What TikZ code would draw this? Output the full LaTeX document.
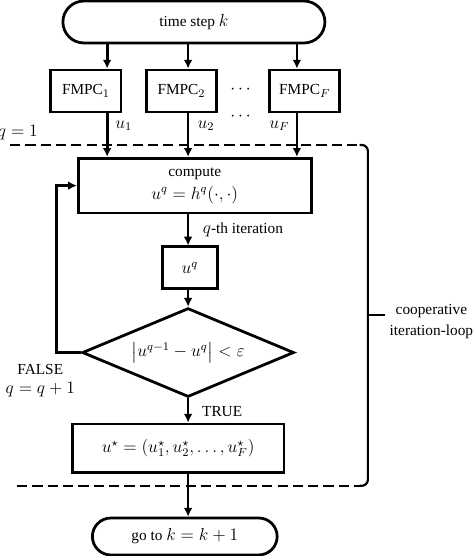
\documentclass[tikz,border=0pt]{standalone}
\usepackage{amsmath}
\usepackage{fontspec}
\setmainfont{Liberation Serif}
\DeclareMathSizes{10.5}{12}{8.5}{6.5}
\usepackage{tikz}
\usetikzlibrary{positioning}
\usetikzlibrary{calc,arrows.meta}
\usetikzlibrary{shapes.geometric,shapes.misc}

\tikzset{
	every node/.style={font=\fontsize{10.5}{12.5}\selectfont},
	flowline/.style={line width=1.9pt, -{Latex[length=6pt,width=6pt]}},
	flowbox/.style={draw, line width=1.9pt, rectangle, inner sep=0pt, align=center},
	terminal/.style={draw, line width=1.9pt, rounded rectangle, inner sep=0pt},
	decision/.style={draw, line width=1.9pt, diamond, aspect=2.4, inner sep=0pt},
	loopline/.style={line width=1.5pt, dash pattern=on 7pt off 3.5pt},
	braceline/.style={line width=1.5pt, rounded corners=0.15cm},
}

\begin{document}
\begin{tikzpicture}
	
	\useasboundingbox (-4.53,0.00) rectangle (6.89,-13.39);
	
	% ---------------------
	% Columns of the arrows
	\coordinate (ColA) at (-1.95cm,0.00cm);
	\coordinate (ColB) at ( 0.00cm,0.00cm);
	\coordinate (ColF) at ( 2.62cm,0.00cm);
	
	% ---------------------
	% Blocks
	\node[terminal, minimum width=6.31cm, minimum height=1.01cm] (Start) at (0.14cm,-0.53cm) {time step $k$};
	
	\node[flowbox, minimum width=1.69cm, minimum height=1.01cm] (FmpcA) at (-2.46cm,-2.19cm) {FMPC$_1$};
	\node[flowbox, minimum width=1.69cm, minimum height=1.01cm] (FmpcB) at (-0.16cm,-2.19cm) {FMPC$_2$};
	\node[flowbox, minimum width=1.69cm, minimum height=1.01cm] (FmpcF) at ( 2.81cm,-2.19cm) {FMPC$_F$};
	\node (DotsA) at (1.30cm,-2.17cm) {$\cdots$};
	\node (DotsB) at (1.30cm,-2.82cm) {$\cdots$};
	
	\node[flowbox, minimum width=5.61cm, minimum height=1.32cm] (Compute) at (0.16cm,-4.47cm) {compute\\[3pt]$u^q = h^q(\cdot,\cdot)$};
	\node[flowbox, minimum width=1.32cm, minimum height=1.01cm] (Iterate) at (0.04cm,-6.45cm) {$u^q$};
	\node[decision, minimum width=5.10cm, minimum height=2.14cm] (Check) at (0.00cm,-8.49cm) {$\bigl|u^{q-1}-u^q\bigr| < \varepsilon$};
	\node[flowbox, minimum width=5.10cm, minimum height=1.16cm] (Result) at (-0.24cm,-10.79cm) {$u^\star = (u_1^\star, u_2^\star, \dots, u_F^\star)$};
	\node[terminal, minimum width=4.45cm, minimum height=0.89cm] (Next) at (-0.08cm,-12.92cm) {go to $k = k+1$};
	
	% ---------------------
	% Labels
	\node (LabA) at (-1.55cm,-3.03cm) {$u_1$};
	\node (LabB) at ( 0.43cm,-3.03cm) {$u_2$};
	\node (LabF) at ( 2.20cm,-3.03cm) {$u_F$};
	\node (LabInit) at (-4.10cm,-3.20cm) {$q = 1$};
	\node (LabIter) at (1.32cm,-5.54cm) {$q$-th iteration};
	\node (LabTrue) at (0.82cm,-9.92cm) {TRUE};
	\node[align=center] (LabFalse) at (-3.56cm,-9.17cm) {FALSE\\[1pt]$q = q+1$};
	\node[align=center] (LabLoop) at (5.86cm,-7.75cm) {cooperative\\[2pt]iteration-loop};
	
	% ---------------------
	% Arrows
	\draw[flowline] (Start.south -| ColA) -- (FmpcA.north -| ColA);
	\draw[flowline] (Start.south -| ColB) -- (FmpcB.north -| ColB);
	\draw[flowline] (Start.south -| ColF) -- (FmpcF.north -| ColF);
	
	\draw[flowline] (FmpcA.south -| ColA) -- (Compute.north -| ColA);
	\draw[flowline] (FmpcB.south -| ColB) -- (Compute.north -| ColB);
	\draw[flowline] (FmpcF.south -| ColF) -- (Compute.north -| ColF);
	
	\draw[flowline] (Compute.south -| ColB) -- (Iterate.north -| ColB);
	\draw[flowline] (Iterate.south -| ColB) -- (Check.north);
	\draw[flowline] (Check.south) -- (Result.north -| ColB);
	\draw[flowline] (Result.south -| ColB) -- (Next.north -| ColB);
	
	\draw[flowline] (Check.west) -- ++(-0.58cm,0.00cm) |- (Compute.west);
	
	% ---------------------
	% Iteration loop
	\coordinate (LoopTop) at (4.33cm,-3.49cm);
	\coordinate (LoopBot) at (4.33cm,-11.70cm);
	\path (LoopTop) +(-0.20cm,0.00cm) coordinate (LoopTopIn);
	\path (LoopBot) +(-0.20cm,0.00cm) coordinate (LoopBotIn);
	\path (LoopTop) +(-8.62cm,0.00cm) coordinate (LoopTopEnd);
	\path (LoopBot) +(-8.45cm,0.00cm) coordinate (LoopBotEnd);
	\path (LoopTop) +(0.00cm,-4.10cm) coordinate (LoopMid);
	\path (LoopMid) +(0.41cm,0.00cm) coordinate (LoopTip);
	
	\draw[loopline] (LoopTopEnd) -- (LoopTopIn);
	\draw[loopline] (LoopBotEnd) -- (LoopBotIn);
	\draw[braceline] (LoopTopIn) -- (LoopTop) -- (LoopBot) -- (LoopBotIn);
	\draw[line width=1.5pt] (LoopMid) -- (LoopTip);
	
\end{tikzpicture}
\end{document}
